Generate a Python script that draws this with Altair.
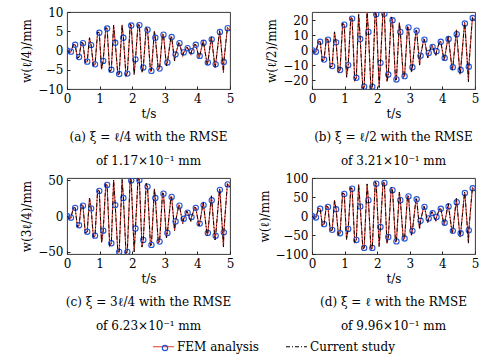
import altair as alt
import pandas as pd

# ---- data ----
T_EXT = [0.0, 0.08, 0.20, 0.32, 0.44, 0.56, 0.69, 0.81, 0.94, 1.06, 1.19, 1.31, 1.43, 1.56,
         1.69, 1.81, 1.94, 2.06, 2.18, 2.30, 2.43, 2.56, 2.68, 2.80, 2.93, 3.05, 3.19, 3.30,
         3.43, 3.55, 3.68, 3.80, 3.92, 4.05, 4.18, 4.30, 4.43, 4.54, 4.68, 4.80, 4.92, 5.00]
A_EXT = [0, -0.6, 1.6, -2.0, 2.1, -3.1, 3.3, -4.0, 4.8, -4.9, 5.9, -5.5, 6.6, -6.3, 6.7, -6.6,
         6.9, -6.3, 6.9, -5.7, 6.0, -5.4, 5.0, -4.9, 4.2, -4.0, 3.6, -2.7, 2.0, -1.4, 0.9, -1.0,
         1.6, -1.8, 2.6, -3.6, 3.7, -4.4, 5.0, -5.7, 5.9, 5.3]
B_EXT = [0, -2.2, 5.9, -7.4, 7.8, -11.5, 12.2, -14.8, 17.8, -18.1, 21.8, -20.4, 24.4, -26.5,
         26.0, -27.0, 27.0, -25.0, 27.0, -21.1, 22.2, -20.0, 18.5, -18.1, 15.5, -14.8, 13.3,
         -10.0, 7.4, -5.2, 3.3, -3.7, 5.9, -6.7, 9.6, -13.3, 13.7, -16.3, 18.5, -21.1, 21.8, 19.6]
C_EXT = [0, -4.6, 12.2, -15.2, 16.0, -23.6, 25.1, -30.4, 36.5, -37.2, 44.8, -41.8, 50.2, -51.0,
         51.0, -52.0, 54.0, -50.0, 54.0, -43.3, 45.6, -41.0, 38.0, -37.2, 31.9, -30.4, 27.4,
         -20.5, 15.2, -10.6, 6.8, -7.6, 12.2, -13.7, 19.8, -27.4, 28.1, -33.4, 38.0, -43.3, 44.8, 40.3]
D_EXT = [0, -7.6, 20.2, -25.2, 26.5, -39.1, 41.6, -50.4, 60.5, -61.7, 74.3, -69.3, 83.2, -86.0,
         84.4, -88.0, 90.0, -80.0, 90.0, -71.8, 75.6, -68.0, 63.0, -61.7, 52.9, -50.4, 45.4,
         -34.0, 25.2, -17.6, 11.3, -12.6, 20.2, -22.7, 32.8, -45.4, 46.6, -55.4, 63.0, -71.8, 74.3, 66.8]

T_MK = [0.00, 0.12, 0.25, 0.37, 0.49, 0.62, 0.74, 0.86, 0.99, 1.11, 1.23, 1.36, 1.48, 1.60,
        1.73, 1.85, 1.97, 2.10, 2.22, 2.34, 2.47, 2.59, 2.71, 2.84, 2.96, 3.08, 3.21, 3.33,
        3.45, 3.58, 3.70, 3.82, 3.95, 4.07, 4.19, 4.32, 4.44, 4.56, 4.69, 4.81, 4.93]
A_MK = [0, -0.3, 1.5, -1.7, 1.9, -2.9, 1.4, -3.6, 4.6, -2.7, 5.7, -5.0, 2.0, -6.1, 3.3, -6.0,
        6.5, -2.3, 6.6, -4.4, 5.4, -5.3, 3.3, -4.7, 4.1, -3.1, 3.5, -1.0, 1.9, -0.5, 0.6, -0.2,
        1.5, -1.4, 2.0, -3.1, 2.9, -3.6, 4.8, -3.0, 5.8]
B_MK = [0, -1.1, 5.6, -6.3, 7.0, -10.7, 5.2, -13.3, 17.0, -10.0, 21.1, -18.5, 7.4, -24.5, 12.2,
        -24.5, 24.0, -8.5, 24.4, -16.3, 20.0, -19.6, 12.2, -17.4, 15.2, -11.5, 13.0, -3.7, 7.0,
        -1.9, 2.2, -0.7, 5.6, -5.2, 7.4, -11.5, 10.7, -13.3, 17.8, -11.1, 21.5]
C_MK = [0, -2.3, 11.4, -12.9, 14.4, -22.0, 10.6, -27.4, 35.0, -20.5, 43.3, -38.0, 15.2, -50.0,
        25.1, -50.0, 49.4, -17.5, 50.2, -33.4, 41.0, -40.3, 25.1, -35.7, 31.2, -23.6, 26.6,
        -7.6, 14.4, -3.8, 4.6, -1.5, 11.4, -10.6, 15.2, -23.6, 22.0, -27.4, 36.5, -22.8, 44.1]
D_MK = [0, -3.8, 18.9, -21.4, 23.9, -36.5, 17.6, -45.4, 58.0, -34.0, 71.8, -63.0, 25.2, -84.0,
        41.6, -84.0, 85.0, -29.0, 87.0, -55.4, 68.0, -66.8, 41.6, -59.2, 51.7, -39.1, 44.1,
        -12.6, 23.9, -6.3, 7.6, -2.5, 18.9, -17.6, 25.2, -39.1, 36.5, -45.4, 60.5, -37.8, 73.1]

X_TICKS = [0, 1, 2, 3, 4, 5]
Y_TICKS = [[-10, -5, 0, 5, 10], [-20, -10, 0, 10, 20], [-50, 0, 50], [-100, -50, 0, 50, 100]]
Y_DOMAINS = [[-10, 10], [-26, 25.5], [-53, 53], [-100, 100]]
Y_TITLES = ["w(ℓ/4)/mm", "w(ℓ/2)/mm", "w(3ℓ/4)/mm", "w(ℓ)/mm"]
CAPTIONS = [
    ["(a) ξ = ℓ/4 with the RMSE", "of 1.17×10⁻¹ mm"],
    ["(b) ξ = ℓ/2 with the RMSE", "of 3.21×10⁻¹ mm"],
    ["(c) ξ = 3ℓ/4 with the RMSE", "of 6.23×10⁻¹ mm"],
    ["(d) ξ = ℓ with the RMSE", "of 9.96×10⁻¹ mm"],
]
SERIES = ["FEM analysis", "Current study"]

FONT = "DejaVu Serif"
RED = "#e2382c"
BLUE = "#2456d6"
LEG_X = 85
LEG_Y = 323


def merged(ext, mk):
    d = {}
    for t, v in zip(T_EXT, ext):
        d[t] = v
    for t, v in zip(T_MK, mk):
        d[t] = v
    ts = sorted(d)
    return [d[t] for t in ts], ts


def line_legend():
    return alt.Legend(orient="none", legendX=LEG_X, legendY=LEG_Y, direction="horizontal",
                      title=None, symbolType="stroke", symbolSize=441, symbolStrokeWidth=1.2,
                      labelFont=FONT, labelFontSize=12, labelColor="black", columnPadding=24,
                      labelOffset=2)


color_enc = alt.Color("series:N", scale=alt.Scale(domain=SERIES, range=[RED, "black"]),
                      legend=line_legend())
dash_enc = alt.StrokeDash("series:N",
                          scale=alt.Scale(domain=SERIES, range=[[1, 0], [4, 2, 1, 2]]),
                          legend=line_legend())
mk_enc = alt.Stroke(
    "mk:N",
    scale=alt.Scale(domain=["FEM analysis"], range=[BLUE]),
    legend=alt.Legend(orient="none", legendX=LEG_X + 8, legendY=LEG_Y + 8, title=None,
                      labelExpr="''", symbolType="circle", symbolSize=28,
                      symbolStrokeWidth=1.1, symbolFillColor="transparent", symbolOpacity=1),
)


def panel(i, ext, mk):
    vals, ts = merged(ext, mk)
    fem = pd.DataFrame({"t": ts, "v": vals, "series": SERIES[0]})
    cur = pd.DataFrame({"t": ts, "v": vals, "series": SERIES[1]})
    mkdf = pd.DataFrame({"t": T_MK, "v": mk, "mk": "FEM analysis"})
    x = alt.X("t:Q", scale=alt.Scale(domain=[0, 5], nice=False),
              axis=alt.Axis(values=X_TICKS, title="t/s", format="d"))
    y = alt.Y("v:Q", scale=alt.Scale(domain=Y_DOMAINS[i], nice=False, zero=False),
              axis=alt.Axis(values=Y_TICKS[i], title=Y_TITLES[i], format="d"))
    red = alt.Chart(fem).mark_line(strokeWidth=1.1, clip=True).encode(
        x=x, y=y, order="t:Q", color=color_enc, strokeDash=dash_enc)
    pts = alt.Chart(mkdf).mark_point(shape="circle", filled=False, size=28, strokeWidth=1.1,
                                     opacity=1, clip=True).encode(x=x, y=y, stroke=mk_enc)
    blk = alt.Chart(cur).mark_line(strokeWidth=0.9, clip=True).encode(
        x=x, y=y, order="t:Q", color=color_enc, strokeDash=dash_enc)
    return alt.layer(red, pts, blk).properties(
        width=163, height=77 if i < 2 else 76,
        title=alt.TitleParams(CAPTIONS[i], orient="bottom", anchor="middle", font=FONT,
                              fontSize=12, fontWeight="normal", lineHeight=24, offset=13,
                              color="black"),
    )


panels = [panel(0, A_EXT, A_MK), panel(1, B_EXT, B_MK),
          panel(2, C_EXT, C_MK), panel(3, D_EXT, D_MK)]

chart = alt.concat(*panels, columns=2, spacing={"row": 3, "column": 22}).properties(
    padding={"left": 20, "top": 5, "right": 4, "bottom": 2},
    background="white",
).configure_view(stroke="#222222", strokeWidth=0.9).configure_axis(
    grid=False, domain=False, offset=-3, tickSize=3, tickColor="#222222",
    labelFont=FONT, labelFontSize=12, labelColor="black", labelPadding=4,
    titleFont=FONT, titleFontSize=12, titleFontWeight="normal", titleColor="black",
    titlePadding=4,
).configure_axisX(labelFlush=False).configure_axisY(labelFlush=False)

chart.save("out.html", embed_options={"renderer": "svg", "actions": False})
